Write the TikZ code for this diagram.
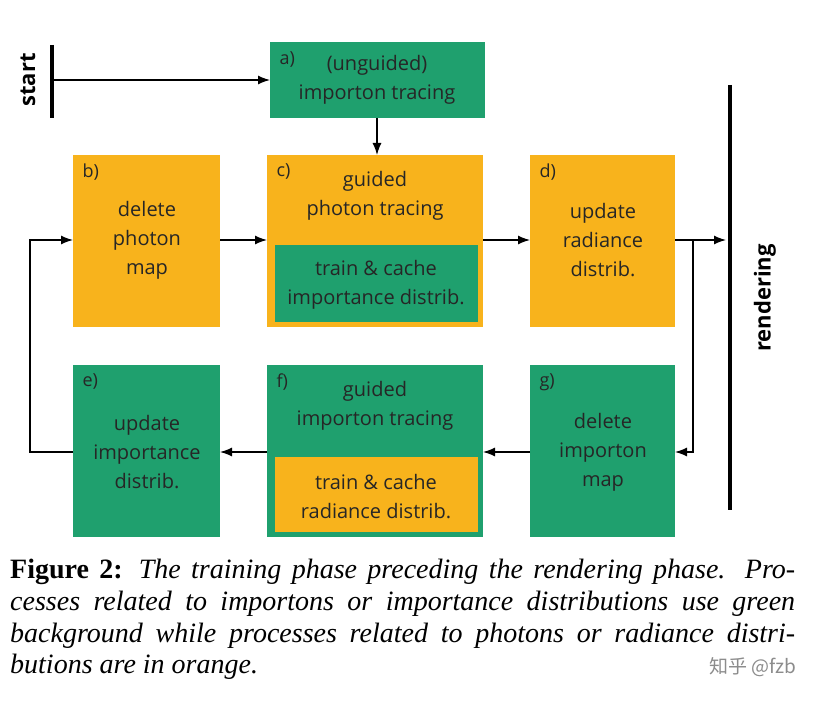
\documentclass[tikz,border=0pt]{standalone}
\usepackage{fontspec}
\setmainfont{Liberation Serif}
\newfontfamily\boxf{Open Sans}
\newfontfamily\cjk{Noto Sans CJK SC}
\usetikzlibrary{arrows.meta}
\definecolor{gr}{HTML}{1FA06E}
\definecolor{og}{HTML}{F8B31C}
\newcommand{\capline}[1]{\makebox[785pt][s]{#1}}
\begin{document}
\begin{tikzpicture}[x=1pt,y=-1pt,
 lbl/.style={font=\boxf\fontsize{20}{29}\selectfont,align=center,text=black!85},
 tag/.style={font=\boxf\fontsize{18}{20}\selectfont,anchor=north west,text=black!85},
 cl/.style={anchor=west,inner sep=0,font=\fontsize{28}{30}\selectfont},
 ar/.style={line width=1.3pt,-{Latex[length=12pt,width=9pt]}}]
\useasboundingbox (0,0) rectangle (814,703);
\fill[white] (0,0) rectangle (814,703);
% boxes
\fill[gr] (270,42) rectangle (485,118); \node[tag] at (276,48) {a)};
\node[lbl] (a) at (377,80) {(unguided)\\importon tracing};
\coordinate (aB) at (377,118);
\fill[og] (73,155) rectangle (220,327); \node[tag] at (79,160) {b)};
\node[lbl] (b) at (147,240) {delete\\photon\\map};
\fill[og] (267,155) rectangle (483,327); \node[tag] at (273,160) {c)};
\fill[gr] (275,245) rectangle (478,322);
\node[lbl] (c) at (375,196) {guided\\photon tracing};
\node[lbl] (c2) at (376,285) {train \& cache\\importance distrib.};
\fill[og] (530,155) rectangle (675,327); \node[tag] at (536,160) {d)};
\node[lbl] (d) at (603,240) {update\\radiance\\distrib.};
\fill[gr] (73,365) rectangle (220,537); \node[tag] at (79,370) {e)};
\node[lbl] (e) at (147,452) {update\\importance\\distrib.};
\fill[gr] (267,365) rectangle (483,537); \node[tag] at (273,370) {f)};
\fill[og] (275,457) rectangle (478,532);
\node[lbl] (f) at (375,406) {guided\\importon tracing};
\node[lbl] (f2) at (376,497) {train \& cache\\radiance distrib.};
\fill[gr] (530,365) rectangle (675,537); \node[tag] at (536,370) {g)};
\node[lbl] (g) at (603,452) {delete\\importon\\map};
% bars
\draw[line width=4pt] (52,45) -- (52,118);
\node[rotate=90,font=\boxf\bfseries\fontsize{22}{24}\selectfont] (st) at (28,80) {start};
\draw[line width=4pt] (730,85) -- (730,510);
\node[rotate=90,font=\boxf\bfseries\fontsize{22}{24}\selectfont] (rd) at (765,298) {rendering};
% arrows
\coordinate (s) at (52,80); \coordinate (aL) at (270,80);
\draw[ar] (s) -- (aL);
\draw[ar] (aB) -- (377,155);
\draw[ar] (220,240) -- (267,240);
\draw[ar] (483,240) -- (530,240);
\draw[ar] (675,240) -- (726,240);
\draw[ar] (693,240) -- (693,452) -- (675,452);
\draw[ar] (530,452) -- (483,452);
\draw[ar] (267,452) -- (220,452);
\draw[ar] (73,452) -- (30,452) -- (30,240) -- (73,240);
% caption
\node[cl] (l1) at (10,572) {\capline{\textbf{Figure 2:} \textit{The training phase preceding the rendering phase. Pro-}}};
\node[cl] (l2) at (10,604) {\capline{\textit{cesses related to importons or importance distributions use green}}};
\node[cl] (l3) at (10,636) {\capline{\textit{background while processes related to photons or radiance distri-}}};
\node[cl] (l4) at (10,667) {\textit{butions are in orange.}};
\node[anchor=east,font=\cjk\fontsize{19}{20}\selectfont,text=black!45] (wm) at (800,667) {知乎 @fzb};
\end{tikzpicture}
\end{document}
